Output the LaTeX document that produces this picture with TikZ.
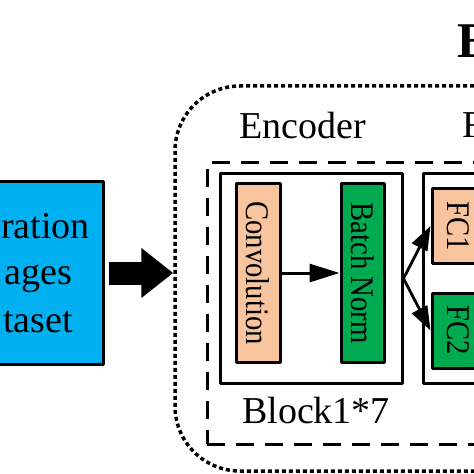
\documentclass[tikz,border=0pt]{standalone}
\usepackage{fontspec}
\setmainfont{Liberation Serif}
\usetikzlibrary{arrows.meta}
\definecolor{skyfill}{RGB}{0,176,240}
\definecolor{peach}{RGB}{247,196,158}
\definecolor{leaf}{RGB}{0,170,80}
\tikzset{
  every picture/.style={line join=round, >=Stealth},
  frame/.style={draw, line width=3bp, inner sep=0pt},
  layer/.style={frame, minimum width=44bp, minimum height=178bp},
  fcbox/.style={frame, minimum width=52bp},
  bigtext/.style={font=\fontsize{38bp}{44bp}\selectfont, inner sep=0pt},
  boxtext/.style={font=\fontsize{33bp}{38bp}\selectfont, inner sep=0pt, rotate=-90, xscale=0.87},
  link/.style={line width=2.8bp, -{Triangle[length=24bp,width=17bp]}},
}

\begin{document}
\begin{tikzpicture}[x=1bp,y=-1bp]
\useasboundingbox (0,0) rectangle (474,474);
\clip (0,0) rectangle (474,474);
% input data
\node[frame, fill=skyfill, minimum width=173bp, minimum height=182bp] (data) at (16.5,273) {};
\node[bigtext, anchor=base east] (d1) at (90,238) {ration};
\node[bigtext, anchor=base east] (d2) at (72,284) {ages};
\node[bigtext, anchor=base east] (d3) at (73,332) {taset};
% containers
\node[draw, line width=3.5bp, dash pattern=on 4bp off 3bp, rounded corners=65bp,
      minimum width=385bp, minimum height=385bp, inner sep=0pt] (enc) at (367.5,278.5) {};
\node[draw, line width=3bp, dash pattern=on 18bp off 11bp,
      minimum width=393bp, minimum height=281bp, inner sep=0pt] (body) at (403.5,303.5) {};
\node[frame, minimum width=182bp, minimum height=209bp] (block) at (311,278.5) {};
\node[frame, minimum width=177bp, minimum height=209bp] (head) at (511.5,278.5) {};
% layers
\node[layer, fill=peach] (conv) at (258,273) {};
\node[boxtext] at (conv) {Convolution};
\node[layer, fill=leaf, minimum width=43bp] (bn) at (362.5,273) {};
\node[boxtext] at (bn) {Batch Norm};
\node[fcbox, fill=peach, minimum height=74bp] (fc1) at (458,226) {};
\node[boxtext] at (fc1) {FC1};
\node[fcbox, fill=leaf, minimum height=75bp] (fc2) at (458,330.5) {};
\node[boxtext] at (fc2) {FC2};
% labels
\node[font=\fontsize{50bp}{56bp}\selectfont\bfseries, inner sep=0pt, anchor=base west] (title) at (457,58) {E};
\node[bigtext, anchor=base] (enclbl) at (303,139) {Encoder};
\node[bigtext, anchor=base west] (fclbl) at (462,138) {F};
\node[bigtext, anchor=base] (blocklbl) at (316,423) {Block1*7};
% arrows
\draw[line width=23bp, -{Triangle[length=32bp,width=48bp]}, shorten <=4bp]
  (data.east) -- (data.east -| enc.west);
\draw[line width=3bp, -{Triangle[length=30bp,width=18bp]}] (conv) -- (bn);
\coordinate (fork) at (block.east);
\draw[link] (fork) -- (fc1.west);
\draw[link] (fork) -- (fc2.west);
\end{tikzpicture}
\end{document}
